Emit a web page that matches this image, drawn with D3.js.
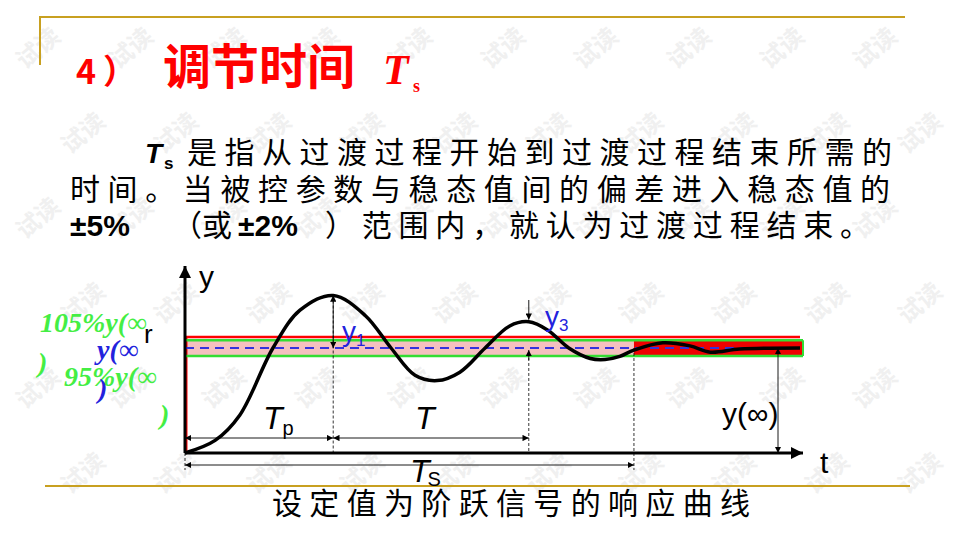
<!DOCTYPE html>
<html><head><meta charset="utf-8">
<script src="https://cdn.jsdelivr.net/npm/d3@7"></script>
<style>body{margin:0;background:#fff}svg{display:block}</style>
</head><body><svg width="960" height="540"></svg>
<script>
// response curve samples (t, y), y(inf)=1
var times = [0,0.49,0.89,1.43,1.87,2.41,2.93,3.35,3.74,4.10,4.47,4.88,5.28,5.59,5.90,6.24,6.59,6.83,7.07,7.30,7.77,8.21,8.54,9.02,10];
var values = [0,0.12,0.36,1.0,1.36,1.50,1.31,1.0,0.74,0.69,0.77,1.0,1.21,1.25,1.17,1.0,0.90,0.89,0.92,0.98,1.05,1.02,0.96,0.99,1.0];
var bandHi = 1.075, bandLo = 0.925, redTop = 1.105;
var tPeak = 2.41, yPeak = 1.50, tPeak2 = 5.59, yPeak2 = 1.25, tSettle = 7.30, tEnd = 10;
var paraLines = ["是指从过渡过程开始到过渡过程结束所需的", "时间。当被控参数与稳态值间的偏差进入稳态值的"];

var svg = d3.select("svg");
var x = d3.scaleLinear().domain([0, 10]).range([185, 800]);
var y = d3.scaleLinear().domain([0, 1]).range([453, 348]);
var cjk = "'Noto Sans CJK SC', sans-serif";

// watermark
for (var r = 0; r < 6; r++) for (var c = 0; c < 10; c++) {
  svg.append("text").attr("transform", "translate(" + (c * 93 + (r % 2) * 45 + 25) + "," + (r * 85 + 70) + ") rotate(-40)")
    .text("试读").style("font-family", cjk).style("font-size", "24px").style("font-weight", "bold").style("fill", "#f0f0f0");
}

// frame lines
svg.append("path").attr("d", "M40,65V17H905").attr("fill", "none").attr("stroke", "#c8a020").attr("stroke-width", 2);
svg.append("line").attr("x1", 45).attr("x2", 910).attr("y1", 486).attr("y2", 486).attr("stroke", "#c8a020").attr("stroke-width", 2);

// title
var title = svg.append("text").attr("y", 84).style("fill", "#ff0000").style("font-weight", "bold");
title.append("tspan").attr("x", 76).text("4").style("font-family", cjk).style("font-size", "34px");
title.append("tspan").attr("x", 103).text("）").style("font-family", cjk).style("font-size", "34px");
title.append("tspan").attr("x", 163).text("调节时间").style("font-family", cjk).style("font-size", "48px");
title.append("tspan").attr("x", 383).text("T").style("font-family", "'Liberation Serif', serif").style("font-style", "italic").style("font-size", "42px");
title.append("tspan").attr("x", 413).attr("y", 92).text("s").style("font-family", "'Liberation Serif', serif").style("font-size", "18px");

// paragraph
svg.append("text").attr("x", 145).attr("y", 163).style("font-family", "'Liberation Sans', sans-serif").style("font-weight", "bold").style("font-style", "italic").style("font-size", "28px").text("T");
svg.append("text").attr("x", 164).attr("y", 169).style("font-family", "'Liberation Sans', sans-serif").style("font-weight", "bold").style("font-size", "17px").text("s");
svg.append("text").attr("x", 187).attr("y", 163).attr("textLength", 705).style("font-family", cjk).style("font-size", "30px").text(paraLines[0]);
svg.append("text").attr("x", 70).attr("y", 200).attr("textLength", 820).style("font-family", cjk).style("font-size", "30px").text(paraLines[1]);
var l3 = svg.append("text").attr("y", 236).style("font-family", cjk).style("font-size", "30px");
l3.append("tspan").attr("x", 70).style("font-weight", "bold").style("font-family", "'Liberation Sans', sans-serif").style("font-size", "30px").text("±5%");
l3.append("tspan").attr("x", 172).text("（或");
l3.append("tspan").attr("x", 238).style("font-weight", "bold").style("font-family", "'Liberation Sans', sans-serif").style("font-size", "30px").text("±2%");
l3.append("tspan").attr("x", 325).attr("textLength", 545).text("）范围内，就认为过渡过程结束。");

// bands
svg.append("rect").attr("x", x(0)).attr("y", y(bandHi)).attr("width", x(tSettle) - x(0)).attr("height", y(bandLo) - y(bandHi)).attr("fill", "#f4c0c0");
svg.append("rect").attr("x", x(tSettle)).attr("y", y(bandHi)).attr("width", x(tEnd) - x(tSettle) + 3).attr("height", y(bandLo) - y(bandHi)).attr("fill", "#ee0000");
svg.append("line").attr("x1", x(0)).attr("x2", x(tEnd)).attr("y1", y(redTop)).attr("y2", y(redTop)).attr("stroke", "#ff0000").attr("stroke-width", 2.5);
svg.append("line").attr("x1", x(0) + 1).attr("x2", x(0) + 1).attr("y1", y(redTop)).attr("y2", y(0)).attr("stroke", "#ff0000").attr("stroke-width", 3);
[bandHi, bandLo].forEach(function (v) {
  svg.append("line").attr("x1", x(0)).attr("x2", x(tEnd) + 3).attr("y1", y(v)).attr("y2", y(v)).attr("stroke", "#33dd33").attr("stroke-width", 2.5);
});
svg.append("line").attr("x1", x(tEnd) + 3).attr("x2", x(tEnd) + 3).attr("y1", y(bandHi)).attr("y2", y(bandLo)).attr("stroke", "#33dd33").attr("stroke-width", 2);
svg.append("line").attr("x1", x(0)).attr("x2", x(tEnd)).attr("y1", y(1)).attr("y2", y(1)).attr("stroke", "#3333dd").attr("stroke-width", 2).attr("stroke-dasharray", "9,6");

// arrow markers
var defs = svg.append("defs");
function marker(id, size) {
  defs.append("marker").attr("id", id).attr("viewBox", "0 0 10 10").attr("refX", 10).attr("refY", 5)
    .attr("markerWidth", size).attr("markerHeight", size).attr("orient", "auto-start-reverse")
    .append("path").attr("d", "M0,0L10,5L0,10z").attr("fill", "#000");
}
marker("ar", 7); marker("big", 4);

// dashed guides
function dash(x1, y1, x2, y2) {
  svg.append("line").attr("x1", x1).attr("y1", y1).attr("x2", x2).attr("y2", y2).attr("stroke", "#000").attr("stroke-width", 0.8).attr("stroke-dasharray", "3,2");
}
dash(x(0), y(0), x(0), 470);
dash(x(tPeak), y(yPeak), x(tPeak), y(0));
dash(x(tPeak2), y(1) + 10, x(tPeak2), y(0));
dash(x(tSettle), y(1), x(tSettle), 470);

function arrow(x1, y1, x2, y2, both) {
  var l = svg.append("line").attr("x1", x1).attr("y1", y1).attr("x2", x2).attr("y2", y2).attr("stroke", "#000").attr("stroke-width", 0.9).attr("marker-end", "url(#ar)");
  if (both) l.attr("marker-start", "url(#ar)");
}
arrow(x(0), 438, x(tPeak), 438, true);
arrow(x(tPeak), 438, x(tPeak2), 438, true);
arrow(x(0), 465, x(tSettle), 465, true);
arrow(x(tPeak), y(yPeak), x(tPeak), y(1), true);
arrow(x(tPeak2), 300, x(tPeak2), y(yPeak2) - 2, false);
arrow(x(tPeak2), y(1) + 12, x(tPeak2), y(1) + 2, false);
arrow(778, y(0), 778, y(1), true);

// axes
svg.append("line").attr("x1", x(0)).attr("y1", y(0)).attr("x2", 803).attr("y2", y(0)).attr("stroke", "#000").attr("stroke-width", 3).attr("marker-end", "url(#big)");
svg.append("line").attr("x1", x(0)).attr("y1", y(0)).attr("x2", x(0)).attr("y2", 266).attr("stroke", "#000").attr("stroke-width", 3).attr("marker-end", "url(#big)");

// curve
var pts = times.map(function (t, i) { return [t, values[i]]; });
svg.append("path").datum(pts).attr("fill", "none").attr("stroke", "#000").attr("stroke-width", 3.5)
  .attr("d", d3.line().x(function (d) { return x(d[0]); }).y(function (d) { return y(d[1]); }).curve(d3.curveCatmullRom));

// labels
var sans = "'Liberation Sans', Arial, sans-serif";
function lab(tx, ty, s, size, color, extra) {
  var t = svg.append("text").attr("x", tx).attr("y", ty).text(s).style("font-family", sans).style("font-size", size + "px").style("fill", color);
  if (extra) extra(t);
  return t;
}
lab(199, 287, "y", 30, "#000");
lab(820, 473, "t", 30, "#000");
lab(144, 343, "r", 26, "#000");
var y1 = lab(342, 341, "y", 28, "#2222dd"); y1.append("tspan").attr("dy", 5).style("font-size", "17px").text("1");
var y3 = lab(545, 326, "y", 28, "#2222dd"); y3.append("tspan").attr("dy", 5).style("font-size", "17px").text("3");
var tp = lab(263, 429, "T", 32, "#000", function (t) { t.style("font-style", "italic"); });
tp.append("tspan").attr("dy", 6).style("font-size", "20px").style("font-style", "normal").text("p");
lab(415, 429, "T", 32, "#000", function (t) { t.style("font-style", "italic"); });
lab(722, 424, "y(∞)", 30, "#000");
var ts = lab(410, 482, "T", 32, "#000", function (t) { t.style("font-style", "italic"); });
ts.append("tspan").attr("dx", -2).attr("dy", 4).style("font-size", "20px").style("font-style", "normal").text("S");

var serif = "'Liberation Serif', serif";
function gl(tx, ty, s, color) {
  svg.append("text").attr("x", tx).attr("y", ty).text(s).style("font-family", serif).style("font-style", "italic").style("font-weight", "bold").style("font-size", "28px").style("fill", color);
}
gl(40, 332, "105%y(∞", "#44ee44");
gl(97, 359, "y(∞", "#2222dd");
gl(38, 372, ")", "#44ee44");
gl(64, 386, "95%y(∞", "#44ee44");
gl(98, 398, ")", "#2222dd");
gl(160, 424, ")", "#44ee44");

// caption
svg.append("text").attr("x", 272).attr("y", 514).attr("textLength", 478).style("font-family", cjk).style("font-size", "30px").text("设定值为阶跃信号的响应曲线");
</script></body></html>
